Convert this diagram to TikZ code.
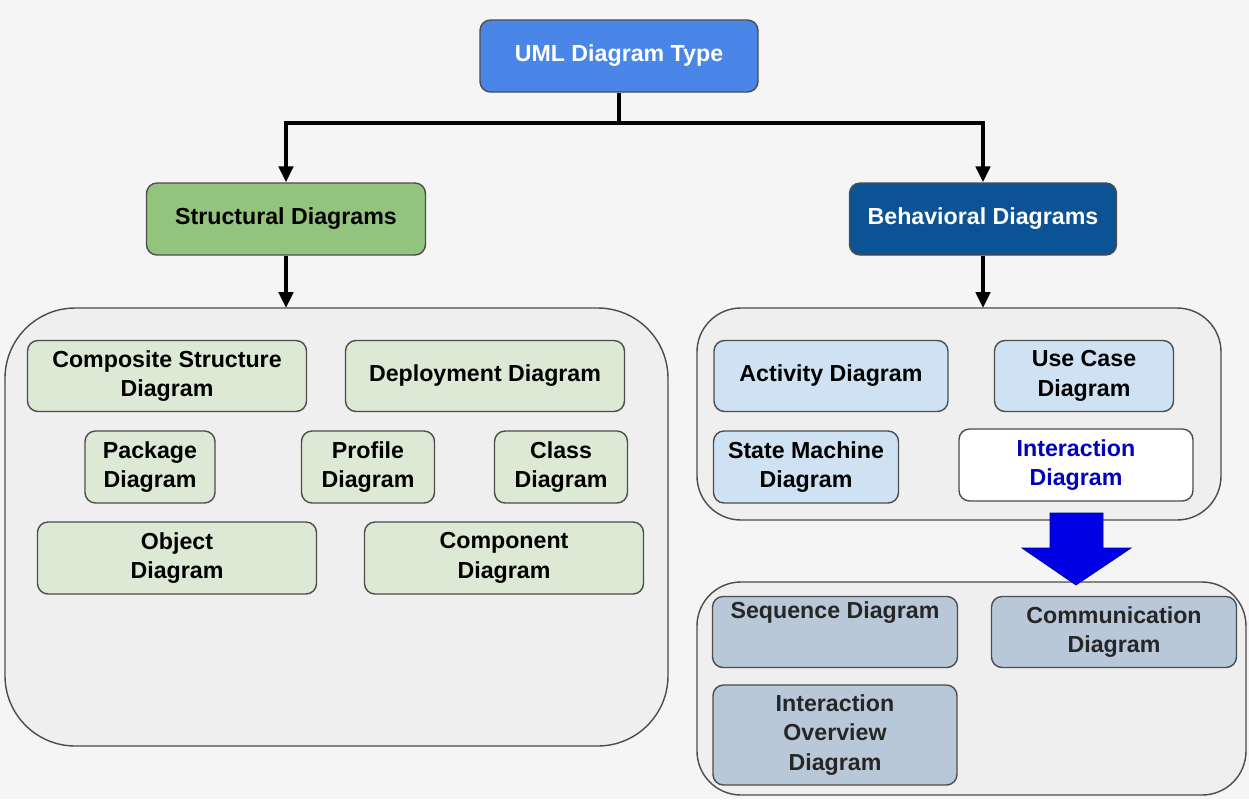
\documentclass[tikz,border=0pt]{standalone}
\usepackage{fontspec}
\setmainfont{Liberation Sans}
\usetikzlibrary{arrows.meta,positioning,calc,shapes}
\definecolor{umlblue}{HTML}{4A86E8}
\definecolor{structgreen}{HTML}{93C47D}
\definecolor{behavblue}{HTML}{0B5394}
\definecolor{lightgreen}{HTML}{DCE9D5}
\definecolor{lightblue}{HTML}{CFE2F3}
\definecolor{grayblue}{HTML}{B9C8D8}
\definecolor{panelgray}{HTML}{EFEFEF}
\begin{document}
\begin{tikzpicture}[x=0.02cm,y=-0.02cm]
\tikzstyle{box node}=[rectangle,rounded corners=6,draw=black!70,line width=0.8,align=center,font=\fontsize{13.2}{17}\selectfont\bfseries,inner sep=2]
\tikzstyle{green node}=[box node,fill=lightgreen]
\tikzstyle{blue node}=[box node,fill=lightblue]
\tikzstyle{seq node}=[box node,fill=grayblue,text=black!85]
\tikzset{
  panel/.style = {draw=black!70,line width=0.8,rounded corners=40,fill=panelgray},
  link/.style = {draw=black,line width=2.2,-{Triangle[length=9pt,width=8pt]}}
}
\fill[white!96!black] (0,0) rectangle (1249,799);
% panels
\draw[panel] (5,308) rectangle (668,746);
\draw[panel,rounded corners=25] (697,308) rectangle (1221,520);
\draw[panel,rounded corners=25] (697,582) rectangle (1246,795);

\node[box node,fill=umlblue,text=white,minimum width=278*0.02cm,minimum height=72*0.02cm] (uml) at (619,56) {UML Diagram Type};
\node[box node,fill=structgreen,minimum width=279*0.02cm,minimum height=72*0.02cm] (struct) at (286,219) {Structural Diagrams};
\node[box node,fill=behavblue,text=white,minimum width=267*0.02cm,minimum height=72*0.02cm] (behav) at (983,219) {Behavioral Diagrams};

% structural
\node[green node,minimum width=279*0.02cm,minimum height=71*0.02cm] (comp) at (167,376) {Composite Structure\\Diagram};
\node[green node,minimum width=279*0.02cm,minimum height=71*0.02cm] (depl) at (485,376) {Deployment Diagram};
\node[green node,minimum width=130*0.02cm,minimum height=72*0.02cm] (pkg) at (150,467) {Package\\Diagram};
\node[green node,minimum width=133*0.02cm,minimum height=72*0.02cm] (prof) at (368,467) {Profile\\Diagram};
\node[green node,minimum width=133*0.02cm,minimum height=72*0.02cm] (cls) at (561,467) {Class\\Diagram};
\node[green node,minimum width=279*0.02cm,minimum height=72*0.02cm] (obj) at (177,558) {Object\\Diagram};
\node[green node,minimum width=279*0.02cm,minimum height=72*0.02cm] (cmpn) at (504,558) {Component\\Diagram};

% behavioral
\node[blue node,minimum width=234*0.02cm,minimum height=71*0.02cm] (act) at (831,376) {Activity Diagram};
\node[blue node,minimum width=179*0.02cm,minimum height=71*0.02cm] (use) at (1084,376) {Use Case\\Diagram};
\node[blue node,minimum width=185*0.02cm,minimum height=72*0.02cm] (state) at (806,467) {State Machine\\Diagram};
\node[box node,fill=white,text=blue!75!black,minimum width=234*0.02cm,minimum height=72*0.02cm] (inter) at (1076,465) {Interaction\\Diagram};

% interaction
\node[seq node,minimum width=245*0.02cm,minimum height=71*0.02cm] (seq) at (835,632) {Sequence Diagram\\[8pt]};
\node[seq node,minimum width=245*0.02cm,minimum height=71*0.02cm] (comm) at (1114,632) {Communication\\Diagram};
\node[seq node,minimum width=244*0.02cm,minimum height=100*0.02cm] (over) at (835,735) {Interaction\\Overview\\Diagram};

\coordinate (split) at (619,123);
\draw[line width=2.2] (uml.south) -- (split);
\draw[link] (split) -| (struct.north);
\draw[link] (split) -| (behav.north);
\draw[link] (struct.south) -- (286,308);
\draw[link] (behav.south) -- (983,308);

% big arrow
\fill[blue!90!black,draw=blue!60!black] (1050,513) -- (1103,513) -- (1103,548) -- (1131,548) -- (1076,585) -- (1022,548) -- (1050,548) -- cycle;
\end{tikzpicture}
\end{document}
